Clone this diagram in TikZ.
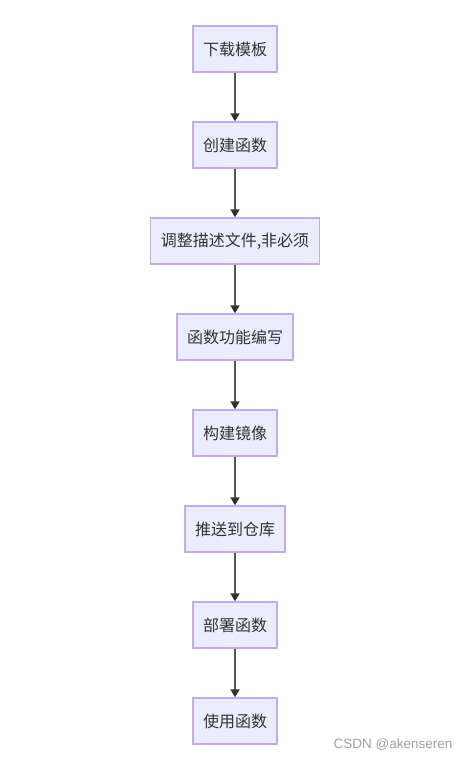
\documentclass[tikz,border=0pt]{standalone}
\usepackage{fontspec}
\newfontfamily\cjk{Noto Sans CJK SC}
\newfontfamily\wmfont{Liberation Sans}
\usetikzlibrary{arrows.meta}
\definecolor{stepfill}{HTML}{ECECFF}
\definecolor{stepdraw}{HTML}{C2ACEC}
\definecolor{linkgray}{HTML}{555555}
\definecolor{tipgray}{HTML}{333333}
\definecolor{textgray}{HTML}{333333}
\definecolor{markgray}{HTML}{A0A0A0}

\begin{document}
\begin{tikzpicture}[x=1pt, y=1pt]
				\tikzstyle{stepnode}=[draw=stepdraw, line width=1.3pt, fill=stepfill, text=textgray, minimum height=46pt, minimum width=84pt, inner xsep=10pt, font=\cjk\fontsize{16}{19}\selectfont]
				\tikzstyle{flowarrow}=[-{Triangle[length=8pt, width=9pt, color=tipgray]}, line width=1.5pt, linkgray]
				
				\useasboundingbox (0,0) rectangle (470,-760);
				
				\node (s1) at (235,-49) [stepnode] {下载模板};
				\node (s2) at (235,-145) [stepnode] {创建函数};
				\node (s3) at (235,-241) [stepnode] {调整描述文件,非必须};
				\node (s4) at (235,-337) [stepnode] {函数功能编写};
				\node (s5) at (235,-433) [stepnode] {构建镜像};
				\node (s6) at (235,-529) [stepnode] {推送到仓库};
				\node (s7) at (235,-625) [stepnode] {部署函数};
				\node (s8) at (235,-721) [stepnode] {使用函数};
				
				\draw [flowarrow] (s1) -- (s2);
				\draw [flowarrow] (s2) -- (s3);
				\draw [flowarrow] (s3) -- (s4);
				\draw [flowarrow] (s4) -- (s5);
				\draw [flowarrow] (s5) -- (s6);
				\draw [flowarrow] (s6) -- (s7);
				\draw [flowarrow] (s7) -- (s8);
				
				\node (mark) at (393,-745) [text=markgray, font=\wmfont\fontsize{13.5}{15}\selectfont] {CSDN @akenseren};
\end{tikzpicture}
\end{document}
